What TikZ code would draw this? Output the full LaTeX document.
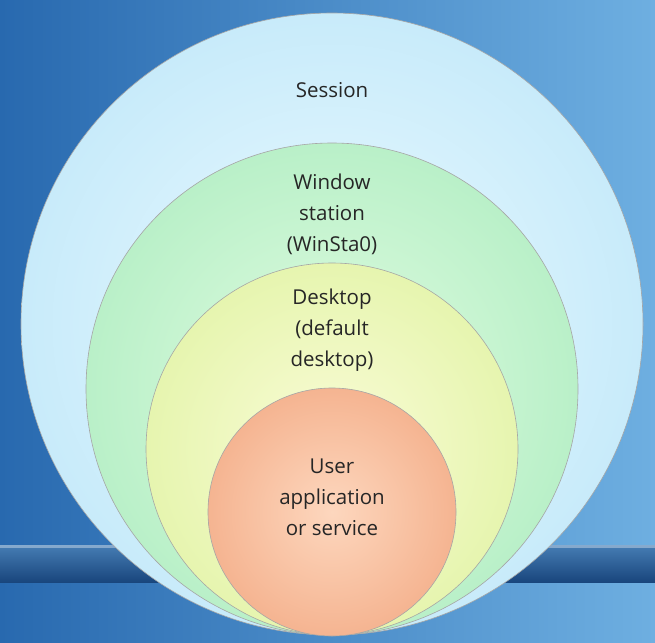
\documentclass[tikz,border=0pt]{standalone}
\usepackage{fontspec}
\setmainfont{Open Sans}
\begin{document}
\begin{tikzpicture}[x=1pt,y=-1pt,
  ring/.style={draw=black!35, line width=0.6pt},
  lbl/.style={align=center, font=\fontsize{20.5}{31}\selectfont, text=black!85}]
\useasboundingbox (0,0) rectangle (655,642);
\shade[left color={rgb,255:red,40;green,105;blue,175}, right color={rgb,255:red,110;green,175;blue,225}] (0,0) rectangle (655,642);
\shade[top color={rgb,255:red,70;green,125;blue,180}, bottom color={rgb,255:red,25;green,70;blue,125}] (0,545) rectangle (655,582);
\fill[white, opacity=0.35] (0,545) rectangle (655,548);
\shade[ring, inner color={rgb,255:red,235;green,250;blue,255}, outer color={rgb,255:red,200;green,235;blue,250}] (332,324) circle (311);
\shade[ring, inner color={rgb,255:red,225;green,252;blue,225}, outer color={rgb,255:red,185;green,240;blue,200}] (332,389) circle (246);
\shade[ring, inner color={rgb,255:red,250;green,252;blue,215}, outer color={rgb,255:red,230;green,245;blue,175}] (332,449) circle (186);
\shade[ring, inner color={rgb,255:red,253;green,215;blue,190}, outer color={rgb,255:red,245;green,180;blue,145}] (332,512) circle (124);
\node[lbl] (s) at (332,90) {Session};
\node[lbl] (w) at (332,214) {Window\\station\\(WinSta0)};
\node[lbl] (d) at (332,330) {Desktop\\(default\\desktop)};
\node[lbl] (u) at (332,497) {User\\application\\or service};
\end{tikzpicture}
\end{document}
